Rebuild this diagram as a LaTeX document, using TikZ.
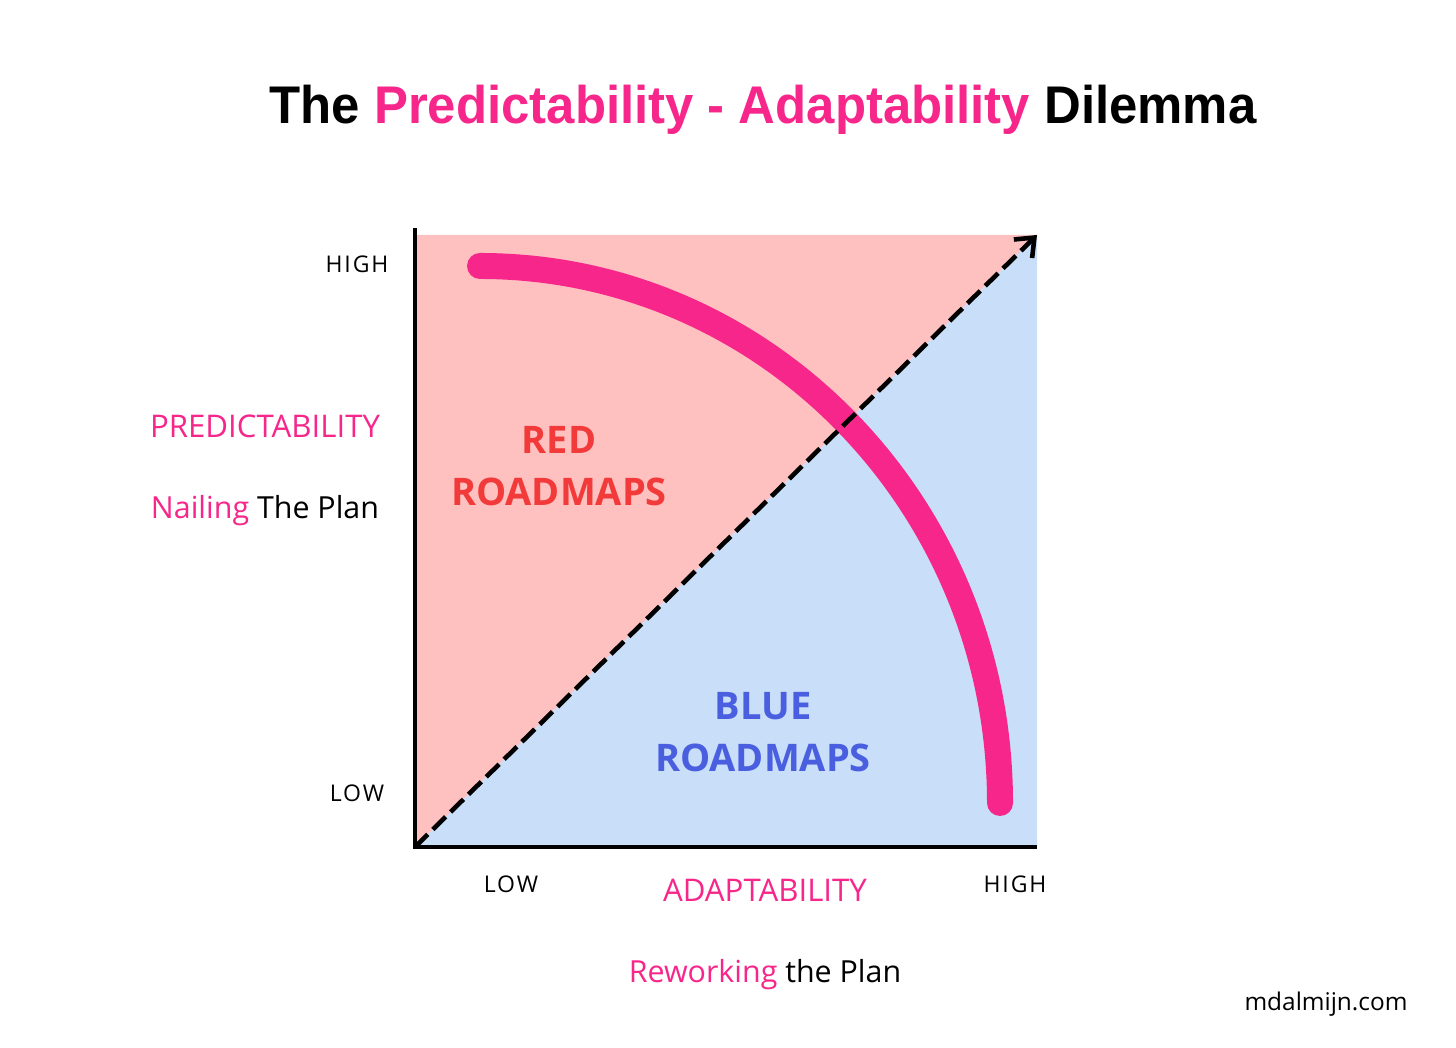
\documentclass[tikz,border=0pt]{standalone}
\usepackage{fontspec}
\setmainfont{Open Sans}
\newfontfamily\titlefont[FakeStretch=0.96]{Liberation Sans}
\usetikzlibrary{arrows.meta}
\definecolor{hotpink}{HTML}{F7268A}
\definecolor{redfill}{HTML}{FEC1C0}
\definecolor{bluefill}{HTML}{C9DEF8}
\definecolor{redtext}{HTML}{F23A3A}
\definecolor{bluetext}{HTML}{4A5EE0}
\begin{document}
\begin{tikzpicture}[x=0.5pt, y=0.5pt,
  tick/.style={font=\fontsize{11.5}{13}\selectfont\addfontfeatures{LetterSpace=8}},
  axislbl/.style={font=\fontsize{15.6}{18}\selectfont, text=hotpink},
  sub/.style={font=\fontsize{15.2}{18}\selectfont},
  zone/.style={font=\bfseries\fontsize{19}{26}\selectfont, align=center},
  axis/.style={line width=1.6pt, black}]
	\fill[white, use as bounding box] (0,0) rectangle (1456,1048);
	
	% corners of the square
	\coordinate (O) at (415,201);
	\coordinate (TL) at (415,813);
	\coordinate (TR) at (1037,813);
	\coordinate (BR) at (1037,201);
	\coordinate (ytop) at (415,820);
	\coordinate (tip) at (1037,813);
	
	\fill[redfill] (O) -- (TL) -- (TR) -- cycle;
	\fill[bluefill] (O) -- (TR) -- (BR) -- cycle;
	
	\node[font=\titlefont\bfseries\fontsize{26.5}{30}\selectfont] (title) at (763,938)
		{The \textcolor{hotpink}{Predictability - Adaptability} Dilemma};
	
	\node[tick] (yhigh) at (357,784) {HIGH};
	\node[tick] (ylow) at (357,255) {LOW};
	\node[tick] (xlow) at (511,164) {LOW};
	\node[tick] (xhigh) at (1015,164) {HIGH};
	
	\node[axislbl] (pred) at (265,622) {PREDICTABILITY};
	\node[sub] (nail) at (265,537) {\textcolor{hotpink}{Nailing} The Plan};
	\node[axislbl] (adapt) at (765,158) {ADAPTABILITY};
	\node[sub] (rework) at (765,73) {\textcolor{hotpink}{Reworking} the Plan};
	
	\node[zone, text=redtext] (red) at (559,582) {RED\\ROADMAPS};
	\node[zone, text=bluetext] (blue) at (763,316) {BLUE\\ROADMAPS};
	
	\node[font=\fontsize{12.2}{14}\selectfont] (site) at (1326,44) {mdalmijn.com};
	
	% the dilemma curve
	\draw[hotpink, line width=13pt, line cap=round] (480,782) arc[start angle=90, end angle=0, x radius=520, y radius=537];
	
	\draw[line width=2.3pt, dash pattern=on 9pt off 3.5pt, -{Straight Barb[length=8pt, width=13pt, line width=2.3pt]}] (O) -- (tip);
	
	\draw[axis] (ytop) -- (O) -- (BR);
\end{tikzpicture}
\end{document}
